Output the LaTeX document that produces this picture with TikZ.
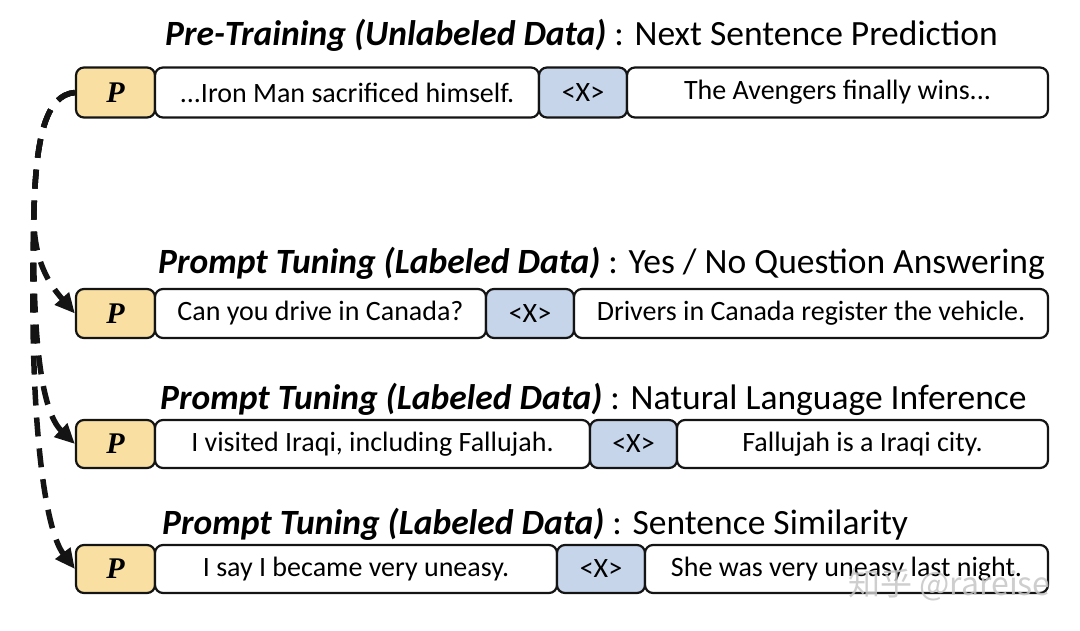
\documentclass[tikz,border=0pt]{standalone}
\usepackage{fontspec}
\setmainfont{Carlito}
\newfontfamily\pfont{Liberation Serif}
\newfontfamily\cjkwm{Noto Sans CJK SC}
\usetikzlibrary{arrows.meta}
\definecolor{pyellow}{HTML}{F9E0A2}
\definecolor{xblue}{HTML}{C6D5EA}
\definecolor{edge}{HTML}{141414}
\tikzset{
  seg/.style={draw=edge, line width=2.2pt, rounded corners=8pt, inner sep=0pt,
    font=\fontsize{28}{30}\selectfont, anchor=center},
  pbox/.style={seg, fill=pyellow, minimum width=79pt, font=\pfont\bfseries\itshape\fontsize{30}{32}\selectfont},
  xbox/.style={seg, fill=xblue},
  tbox/.style={seg, fill=white},
  ttl/.style={anchor=west, inner sep=0pt, font=\fontsize{35.5}{38}\selectfont},
  flow/.style={draw=edge, line width=5.5pt, dash pattern=on 19pt off 12pt,
    -{Triangle[length=20pt,width=18pt]}},
}
\begin{document}
\begin{tikzpicture}[x=1pt,y=-1pt]
\useasboundingbox (0,0) rectangle (1080,630);

% Row 1
\node[ttl] (t1) at (165,35) {\textbf{\textit{Pre-Training (Unlabeled Data)}} : Next Sentence Prediction};
\node[pbox, minimum height=50pt] (p1) at (115.5,92.5) {P};
\node[tbox, minimum height=50pt, minimum width=384pt] (a1) at (347,92.5) {...Iron Man sacrificed himself.};
\node[xbox, minimum height=50pt, minimum width=88pt] (x1) at (583,92.5) {<X>};
\node[tbox, minimum height=50pt, minimum width=421pt] (b1) at (837.5,92.5) {The Avengers finally wins...};

% Row 2
\node[ttl] (t2) at (158,263) {\textbf{\textit{Prompt Tuning (Labeled Data)}} : Yes / No Question Answering};
\node[pbox, minimum height=49pt] (p2) at (115.5,313.5) {P};
\node[tbox, minimum height=49pt, minimum width=331pt] (a2) at (320.5,313.5) {Can you drive in Canada?};
\node[xbox, minimum height=49pt, minimum width=88pt] (x2) at (530,313.5) {<X>};
\node[tbox, minimum height=49pt, minimum width=474pt] (b2) at (811,313.5) {Drivers in Canada register the vehicle.};

% Row 3
\node[ttl] (t3) at (160,399) {\textbf{\textit{Prompt Tuning (Labeled Data)}} : Natural Language Inference};
\node[pbox, minimum height=48pt] (p3) at (115.5,444) {P};
\node[tbox, minimum height=48pt, minimum width=435pt] (a3) at (372.5,444) {I visited Iraqi, including Fallujah.};
\node[xbox, minimum height=48pt, minimum width=87pt] (x3) at (633.5,444) {<X>};
\node[tbox, minimum height=48pt, minimum width=371pt] (b3) at (862.5,444) {Fallujah is a Iraqi city.};

% Row 4
\node[ttl] (t4) at (162,524) {\textbf{\textit{Prompt Tuning (Labeled Data)}} : Sentence Similarity};
\node[pbox, minimum height=48pt] (p4) at (115.5,569) {P};
\node[tbox, minimum height=48pt, minimum width=402pt] (a4) at (356,569) {I say I became very uneasy.};
\node[xbox, minimum height=48pt, minimum width=88pt] (x4) at (601,569) {<X>};
\node[tbox, minimum height=48pt, minimum width=403pt] (b4) at (846.5,569) {She was very uneasy last night.};

% Connectors
\draw[flow] (p1.west) .. controls (45,95) and (36,140) .. (34,210)
  .. controls (32,260) and (50,285) .. (p2.west);
\draw[flow] (p1.west) .. controls (45,95) and (36,140) .. (34,210)
  .. controls (32,330) and (40,410) .. (p3.west);
\draw[flow] (p1.west) .. controls (45,95) and (36,140) .. (34,210)
  .. controls (28,420) and (45,530) .. (p4.west);

% Watermark
\node[anchor=west, inner sep=0pt, text=gray!45, opacity=0.85,
  font=\cjkwm\fontsize{32}{34}\selectfont] (wm) at (848,585) {知乎 @rareise};
\end{tikzpicture}
\end{document}
